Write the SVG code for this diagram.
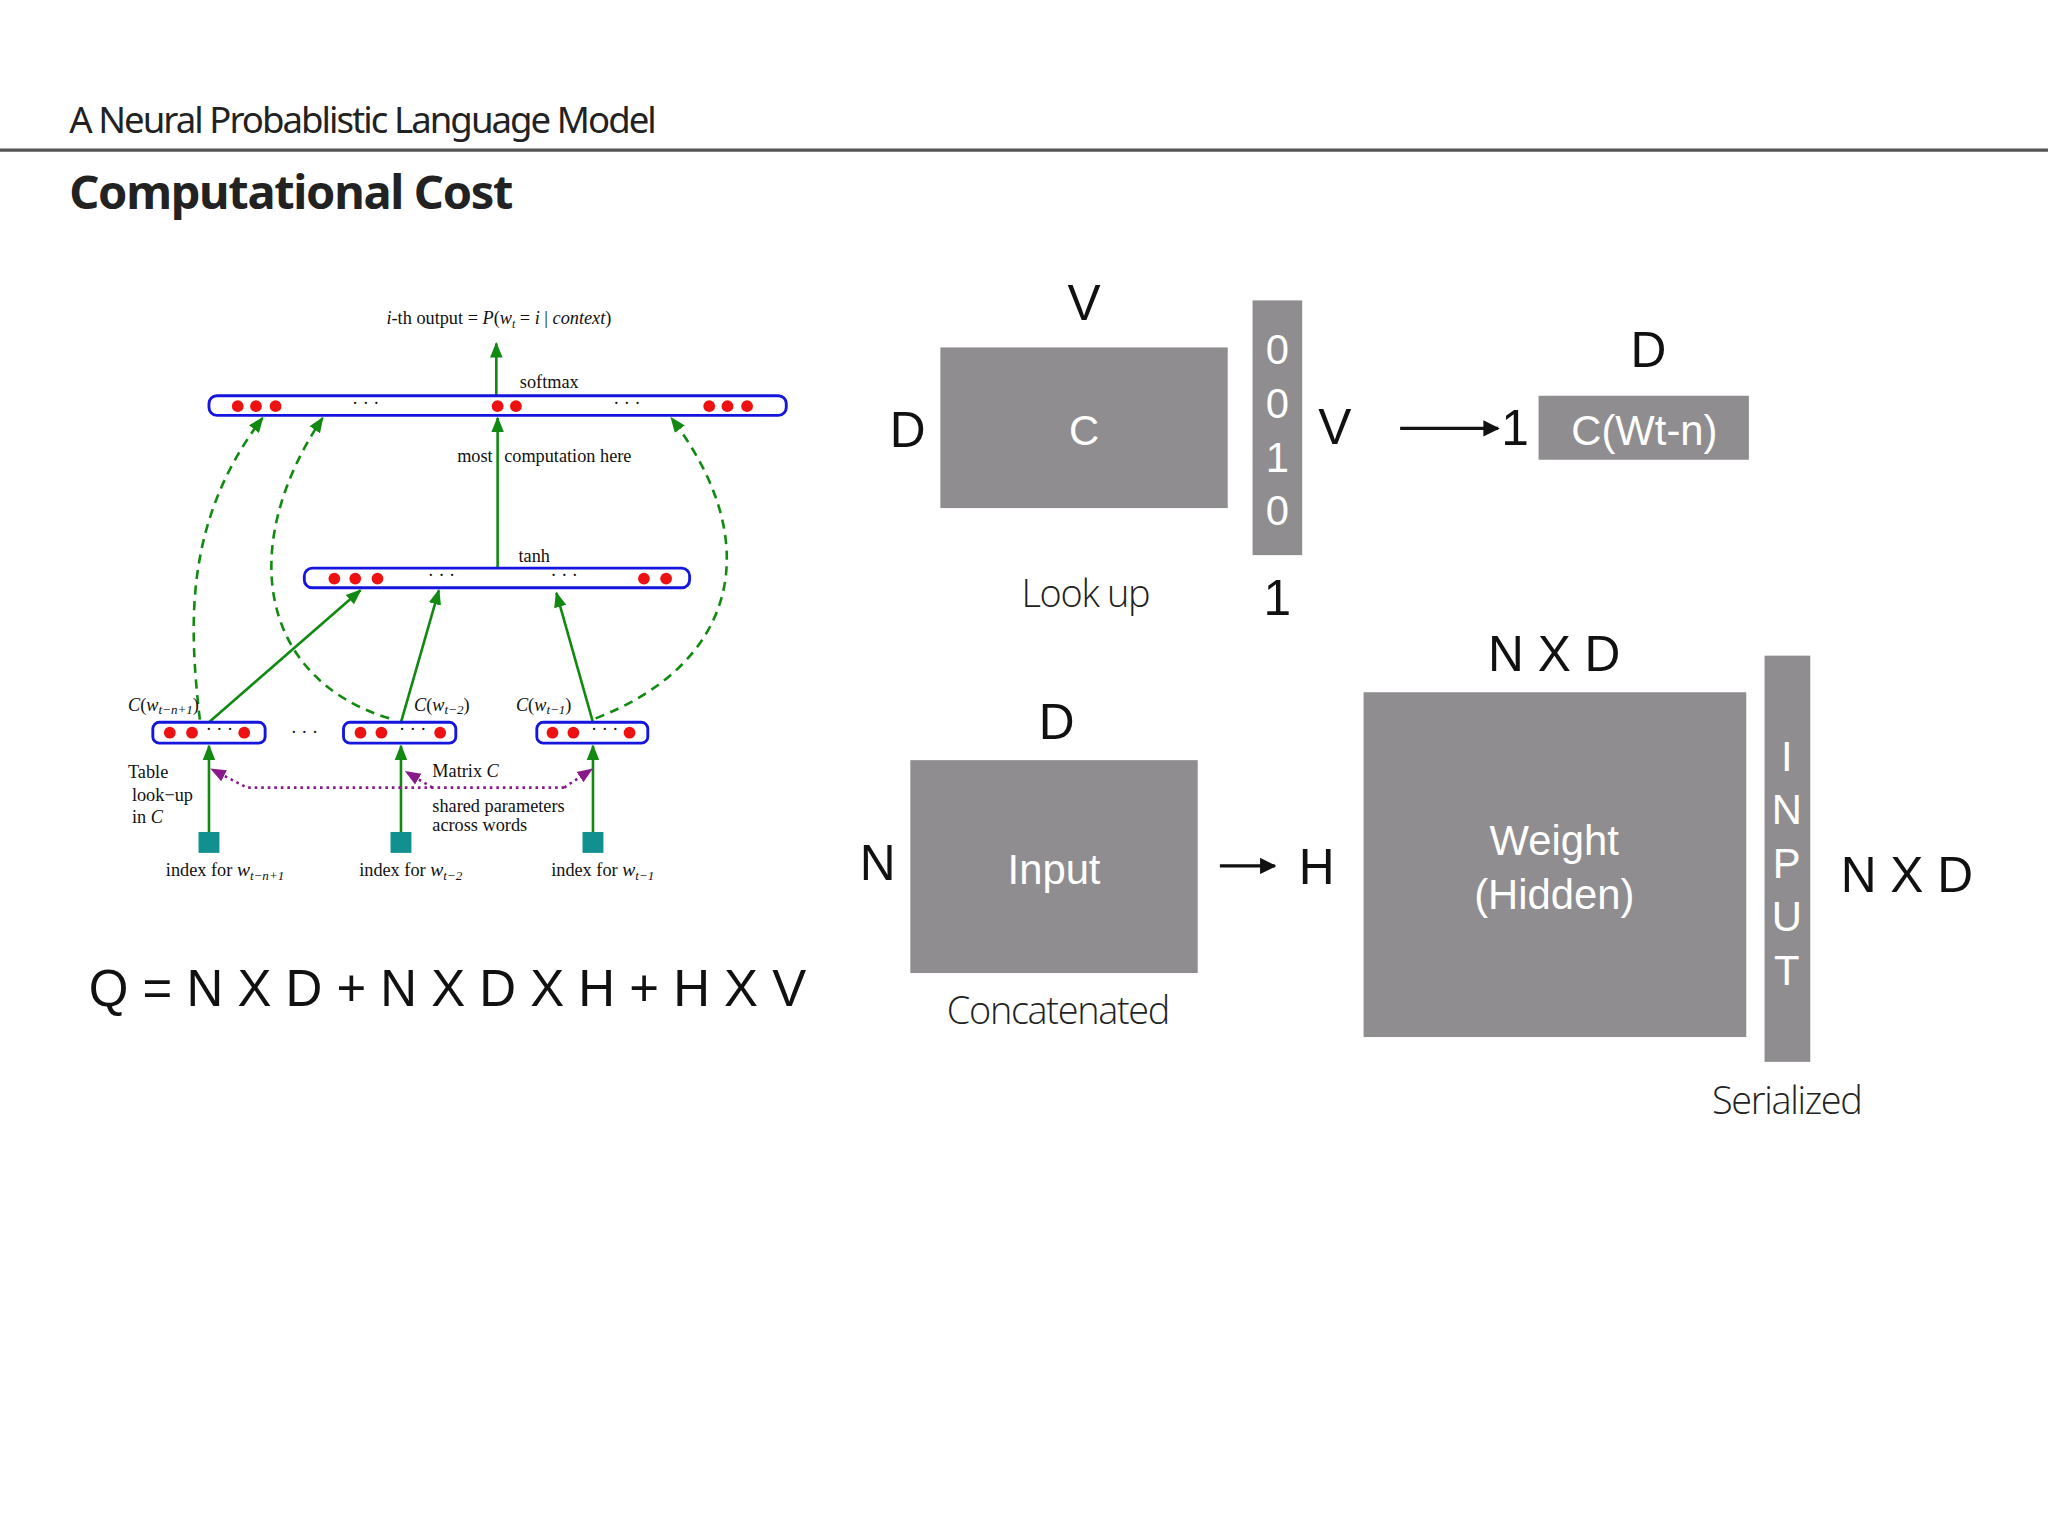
<svg xmlns="http://www.w3.org/2000/svg" width="2048" height="1536" viewBox="0 0 2048 1536">
<defs>
<style>
.s{font-family:"Liberation Serif",serif;font-size:14px;fill:#111}
.a{font-family:"Liberation Sans",Arial,sans-serif;fill:#111}
.w{font-family:"Liberation Sans",Arial,sans-serif;fill:#fff;text-anchor:middle}
.l{font-family:"Open Sans","Noto Sans",sans-serif;font-weight:300;fill:#222;text-anchor:middle;letter-spacing:-1px}
.bar{fill:#fff;stroke:#1515e0;stroke-width:2.2}
.dot{fill:#ee1111}
.g{stroke:#128a12;stroke-width:2;fill:none}
.gd{stroke:#128a12;stroke-width:2;fill:none;stroke-dasharray:7 5}
.p{stroke:#8a1a8a;stroke-width:2;fill:none;stroke-dasharray:2 3}
.box{fill:#8f8d8f}
</style>
<marker id="ga" viewBox="0 0 10 10" refX="9" refY="5" markerWidth="6" markerHeight="6" orient="auto"><path d="M0,1 L10,5 L0,9z" fill="#128a12"/></marker>
<marker id="pa" viewBox="0 0 10 10" refX="9" refY="5" markerWidth="6" markerHeight="6" orient="auto"><path d="M0,1 L10,5 L0,9z" fill="#8a1a8a"/></marker>
<marker id="ka" viewBox="0 0 10 10" refX="9" refY="5" markerWidth="5" markerHeight="5" orient="auto"><path d="M0,0 L10,5 L0,10z" fill="#111"/></marker>
</defs>
<rect width="2048" height="1536" fill="#fff"/>
<g transform="scale(1.3061)">
<g id="header">
<text x="53" y="102" font-family="Noto Sans,sans-serif" font-size="28" letter-spacing="-1.5" fill="#222">A Neural Probablistic Language Model</text>
<line x1="0" y1="115" x2="1568" y2="115" stroke="#555" stroke-width="2.5"/>
<text x="53" y="160" font-family="Noto Sans,sans-serif" font-weight="bold" font-size="36" letter-spacing="-1" fill="#222">Computational Cost</text>
</g>
<g id="connectors">
<line class="g" x1="380" y1="303" x2="380" y2="263" marker-end="url(#ga)"/>
<line class="g" x1="381" y1="435" x2="381" y2="320" marker-end="url(#ga)"/>
<line class="g" x1="160" y1="553" x2="276" y2="452" marker-end="url(#ga)"/>
<line class="g" x1="307" y1="553" x2="336" y2="452" marker-end="url(#ga)"/>
<line class="g" x1="454" y1="553" x2="426" y2="454" marker-end="url(#ga)"/>
<path class="gd" d="M153,551 C145,480 140,400 201,320" marker-end="url(#ga)"/>
<path class="gd" d="M298,550 C200,520 180,420 247,320" marker-end="url(#ga)"/>
<path class="gd" d="M456,550 C560,510 590,420 514,320" marker-end="url(#ga)"/>
<line class="g" x1="160" y1="637" x2="160" y2="571" marker-end="url(#ga)"/>
<line class="g" x1="307" y1="637" x2="307" y2="571" marker-end="url(#ga)"/>
<line class="g" x1="454" y1="637" x2="454" y2="571" marker-end="url(#ga)"/>
<path class="p" d="M432,603 L189,603 L162,589" marker-end="url(#pa)"/>
<path class="p" d="M432,603 L453,589" marker-end="url(#pa)"/>
<path class="p" d="M331,603 L311,591" marker-end="url(#pa)"/>
<line x1="1072" y1="328" x2="1147" y2="328" stroke="#111" stroke-width="2.5" marker-end="url(#ka)"/>
<line x1="934" y1="663" x2="976" y2="663" stroke="#111" stroke-width="2.5" marker-end="url(#ka)"/>
</g>
<g id="softmax">
<rect class="bar" x="160" y="303" width="442" height="15" rx="6"/>
<circle class="dot" cx="182" cy="311" r="4.5"/><circle class="dot" cx="196" cy="311" r="4.5"/><circle class="dot" cx="211" cy="311" r="4.5"/>
<circle class="dot" cx="381" cy="311" r="4.5"/><circle class="dot" cx="395" cy="311" r="4.5"/>
<circle class="dot" cx="543" cy="311" r="4.5"/><circle class="dot" cx="557" cy="311" r="4.5"/><circle class="dot" cx="572" cy="311" r="4.5"/>
<text class="s" x="280" y="313" text-anchor="middle">· · ·</text><text class="s" x="480" y="313" text-anchor="middle">· · ·</text>
<text class="s" x="398" y="297" font-size="13">softmax</text>
<text class="s" x="382" y="248" text-anchor="middle" font-size="15"><tspan font-style="italic">i</tspan>-th output = <tspan font-style="italic">P</tspan>(<tspan font-style="italic">w<tspan font-size="9" dy="3">t</tspan></tspan><tspan dy="-3">  =  </tspan><tspan font-style="italic">i</tspan> | <tspan font-style="italic">context</tspan>)</text>
<text class="s" x="350" y="354" font-size="13">most</text><text class="s" x="386" y="354" font-size="13">computation here</text>
</g>
<g id="tanh">
<rect class="bar" x="233" y="435" width="295" height="15" rx="6"/>
<circle class="dot" cx="256" cy="443" r="4.5"/><circle class="dot" cx="272" cy="443" r="4.5"/><circle class="dot" cx="289" cy="443" r="4.5"/>
<circle class="dot" cx="493" cy="443" r="4.5"/><circle class="dot" cx="510" cy="443" r="4.5"/>
<text class="s" x="338" y="445" text-anchor="middle">· · ·</text><text class="s" x="432" y="445" text-anchor="middle">· · ·</text>
<text class="s" x="397" y="430" font-size="13">tanh</text>
</g>
<g id="emb1">
<rect class="bar" x="117" y="553" width="86" height="16" rx="5"/>
<circle class="dot" cx="130" cy="561" r="4.5"/><circle class="dot" cx="147" cy="561" r="4.5"/><circle class="dot" cx="187" cy="561" r="4.5"/>
<text class="s" x="168" y="563" text-anchor="middle">· · ·</text>
<text class="s" x="98" y="544" font-size="15"><tspan font-style="italic">C</tspan>(<tspan font-style="italic">w</tspan><tspan font-size="10" font-style="italic" dy="3">t−n+1</tspan><tspan dy="-3">)</tspan></text>
</g>
<text class="s" x="233" y="565" text-anchor="middle">· · ·</text>
<g id="emb2">
<rect class="bar" x="263" y="553" width="86" height="16" rx="5"/>
<circle class="dot" cx="276" cy="561" r="4.5"/><circle class="dot" cx="292" cy="561" r="4.5"/><circle class="dot" cx="337" cy="561" r="4.5"/>
<text class="s" x="316" y="563" text-anchor="middle">· · ·</text>
<text class="s" x="317" y="544" font-size="15"><tspan font-style="italic">C</tspan>(<tspan font-style="italic">w</tspan><tspan font-size="10" font-style="italic" dy="3">t−2</tspan><tspan dy="-3">)</tspan></text>
</g>
<g id="emb3">
<rect class="bar" x="411" y="553" width="85" height="16" rx="5"/>
<circle class="dot" cx="423" cy="561" r="4.5"/><circle class="dot" cx="439" cy="561" r="4.5"/><circle class="dot" cx="482" cy="561" r="4.5"/>
<text class="s" x="463" y="563" text-anchor="middle">· · ·</text>
<text class="s" x="395" y="544" font-size="15"><tspan font-style="italic">C</tspan>(<tspan font-style="italic">w</tspan><tspan font-size="10" font-style="italic" dy="3">t−1</tspan><tspan dy="-3">)</tspan></text>
</g>
<g id="indices">
<rect x="152" y="637" width="16" height="16" fill="#119090"/>
<rect x="299" y="637" width="16" height="16" fill="#119090"/>
<rect x="446" y="637" width="16" height="16" fill="#119090"/>
<text class="s" x="127" y="671" font-size="13.5">index for <tspan font-style="italic" font-size="15">w</tspan><tspan font-size="10" font-style="italic" dy="3">t−n+1</tspan></text>
<text class="s" x="275" y="671" font-size="13.5">index for <tspan font-style="italic" font-size="15">w</tspan><tspan font-size="10" font-style="italic" dy="3">t−2</tspan></text>
<text class="s" x="422" y="671" font-size="13.5">index for <tspan font-style="italic" font-size="15">w</tspan><tspan font-size="10" font-style="italic" dy="3">t−1</tspan></text>
<text class="s" x="98" y="596" font-size="13.5">Table</text>
<text class="s" x="101" y="613" font-size="13.5">look−up</text>
<text class="s" x="101" y="630" font-size="13.5">in <tspan font-style="italic">C</tspan></text>
<text class="s" x="331" y="595" font-size="13.5">Matrix <tspan font-style="italic">C</tspan></text>
<text class="s" x="331" y="622" font-size="13.5">shared parameters</text>
<text class="s" x="331" y="636" font-size="13.5">across words</text>
</g>
<text class="a" x="68" y="770" font-size="39">Q = N X D + N X D X H + H X V</text>
<g id="lookup">
<text class="a" x="830" y="245" font-size="38" text-anchor="middle">V</text>
<rect class="box" x="720" y="266" width="220" height="123"/>
<text class="w" x="830" y="341" font-size="32">C</text>
<text class="a" x="695" y="342" font-size="38" text-anchor="middle">D</text>
<text class="l" x="831" y="465" font-size="29">Look up</text>
</g>
<g id="onehot">
<rect class="box" x="959" y="230" width="38" height="195"/>
<text class="w" x="978" y="279" font-size="32">0</text>
<text class="w" x="978" y="320" font-size="32">0</text>
<text class="w" x="978" y="361" font-size="32">1</text>
<text class="w" x="978" y="402" font-size="32">0</text>
<text class="a" x="1022" y="340" font-size="38" text-anchor="middle">V</text>
<text class="a" x="978" y="471" font-size="38" text-anchor="middle">1</text>
</g>
<g id="cwtn">
<text class="a" x="1160" y="341" font-size="38" text-anchor="middle">1</text>
<rect class="box" x="1178" y="303" width="161" height="49"/>
<text class="w" x="1259" y="341" font-size="32">C(Wt-n)</text>
<text class="a" x="1262" y="281" font-size="38" text-anchor="middle">D</text>
</g>
<g id="input">
<text class="a" x="809" y="566" font-size="38" text-anchor="middle">D</text>
<rect class="box" x="697" y="582" width="220" height="163"/>
<text class="w" x="807" y="677" font-size="32">Input</text>
<text class="a" x="672" y="674" font-size="38" text-anchor="middle">N</text>
<text class="l" x="810" y="784" font-size="29">Concatenated</text>
<text class="a" x="1008" y="677" font-size="38" text-anchor="middle">H</text>
</g>
<g id="weight">
<text class="a" x="1190" y="514" font-size="38" text-anchor="middle">N X D</text>
<rect class="box" x="1044" y="530" width="293" height="264"/>
<text class="w" x="1190" y="655" font-size="32">Weight</text>
<text class="w" x="1190" y="696" font-size="32">(Hidden)</text>
</g>
<g id="serialized">
<rect class="box" x="1351" y="502" width="35" height="311"/>
<text class="w" x="1368" y="590" font-size="32">I</text>
<text class="w" x="1368" y="631" font-size="32">N</text>
<text class="w" x="1368" y="672" font-size="32">P</text>
<text class="w" x="1368" y="713" font-size="32">U</text>
<text class="w" x="1368" y="754" font-size="32">T</text>
<text class="a" x="1460" y="683" font-size="38" text-anchor="middle">N X D</text>
<text class="l" x="1368" y="853" font-size="29">Serialized</text>
</g>
</g>
</svg>
